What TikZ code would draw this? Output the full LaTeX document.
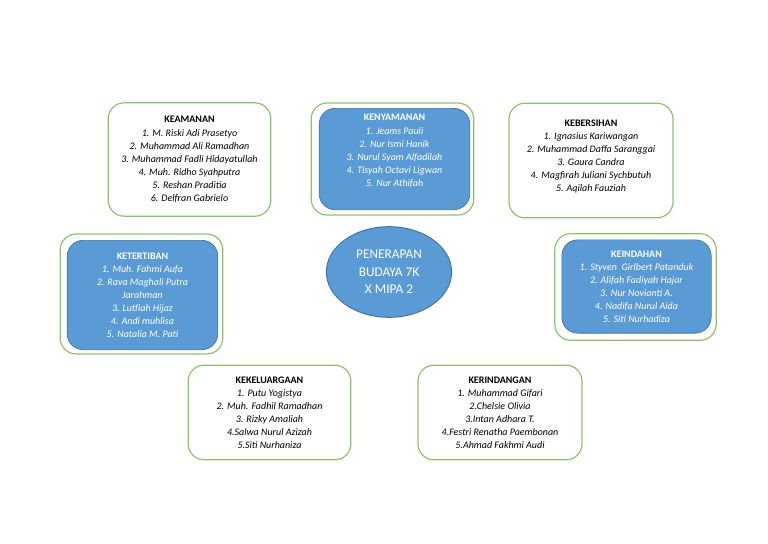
\documentclass[tikz,border=0pt]{standalone}
\usepackage{fontspec}
\setmainfont{Carlito}
\usetikzlibrary{positioning, shapes.geometric}
\definecolor{sblue}{HTML}{5B9BD5}
\definecolor{dblue}{HTML}{41719C}
\definecolor{sgreen}{HTML}{8CC46A}
\newcommand{\headfont}{\bfseries\upshape}
\begin{document}
\begin{tikzpicture} [
        x = 0.75pt, y = -0.75pt,
        frame/.style = {draw=sgreen, line width=0.9pt, rounded corners=12pt, fill=white, inner sep=0pt},
        inner/.style = {draw=dblue, line width=0.5pt, fill=sblue, rounded corners=12pt, inner sep=0pt},
        list/.style = {align=center, font=\fontsize{7.5}{9.8}\selectfont\itshape, inner sep=0pt},
        wlist/.style = {list, text=white}
    ]

    \useasboundingbox (0,0) rectangle (768,543);

    % white boxes
    \node[frame, minimum width=122pt, minimum height=85pt] (aman) at (189.5,159.5) {};
    \node[list] (amant) at (aman) {{\headfont KEAMANAN}\\1. M. Riski Adi Prasetyo\\2. Muhammad Ali Ramadhan\\3. Muhammad Fadli Hidayatullah\\4. Muh. Ridho Syahputra\\5. Reshan Praditia\\6. Delfran Gabrielo};

    \node[frame, minimum width=123pt, minimum height=86pt] (bersih) at (591,160.5) {};
    \node[list] (bersiht) at ([yshift=3pt]bersih) {{\headfont KEBERSIHAN}\\1. Ignasius Kariwangan\\2. Muhammad Daffa Saranggai\\3. Gaura Candra\\4. Magfirah Juliani Sychbutuh\\5. Aqilah Fauziah};

    \node[frame, minimum width=122pt, minimum height=71pt] (keluarga) at (269.5,412.5) {};
    \node[list] (keluargat) at (keluarga) {{\headfont KEKELUARGAAN}\\1. Putu Yogistya\\2. Muh. Fadhil Ramadhan\\3. Rizky Amaliah\\4.Salwa Nurul Azizah\\5.Siti Nurhaniza};

    \node[frame, minimum width=123pt, minimum height=71pt] (rindang) at (500,412.5) {};
    \node[list] (rindangt) at (rindang) {{\headfont KERINDANGAN}\\1. Muhammad Gifari\\2.Chelsie Olivia\\3.Intan Adhara T.\\4.Festri Renatha Paembonan\\5.Ahmad Fakhmi Audi};

    % blue boxes
    \node[frame, minimum width=122pt, minimum height=84pt] (nyaman) at (392.5,159) {};
    \node[inner, minimum width=113pt, minimum height=76pt] (nyamani) at (394.5,159) {};
    \node[wlist] (nyamant) at ([yshift=6pt]nyamani) {{\headfont KENYAMANAN}\\1. Jeams Pauli\\2. Nur Ismi Hanik\\3. Nurul Syam Alfadilah\\4. Tisyah Octavi Ligwan\\5. Nur Athifah};

    \node[frame, minimum width=122pt, minimum height=90pt] (tertib) at (141.5,294) {};
    \node[inner, minimum width=113pt, minimum height=82pt] (tertibi) at (142.5,295) {};
    \node[wlist] (tertibt) at (tertibi) {{\headfont KETERTIBAN}\\1. Muh. Fahmi Aufa\\2. Rava Maghali Putra\\Jarahman\\3. Lutfiah Hijaz\\4. Andi muhlisa\\5. Natalia M. Pati};

    \node[frame, minimum width=121pt, minimum height=80pt] (indah) at (635.5,287) {};
    \node[inner, minimum width=112pt, minimum height=70pt] (indahi) at (636.5,286.5) {};
    \node[wlist] (indaht) at (indahi) {{\headfont KEINDAHAN}\\1. Styven\ \ Girlbert Patanduk\\2. Alifah Fadiyah Hajar\\3. Nur Novianti A.\\4. Nadifa Nurul Aida\\5. Siti Nurhadiza};

    % centre
    \node[ellipse, draw=dblue, line width=0.7pt, fill=sblue, minimum width=94pt, minimum height=68pt, text=white, align=center, font=\fontsize{10}{13}\selectfont] (pusat) at (389,272) {PENERAPAN\\BUDAYA 7K\\X MIPA 2};

\end{tikzpicture}
\end{document}
